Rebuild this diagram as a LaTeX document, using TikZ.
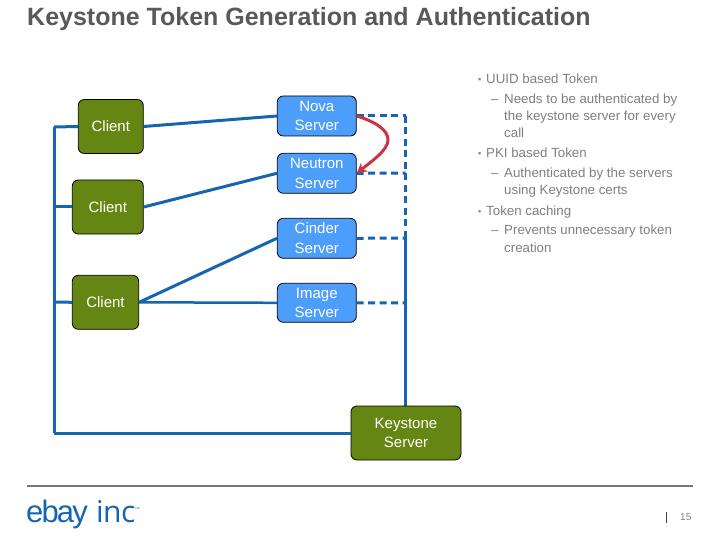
\documentclass[tikz,border=0pt]{standalone}
\usepackage{fontspec}
\setmainfont{Liberation Sans}
\newfontfamily\logolight{Open Sans}
\usetikzlibrary{arrows.meta}
\definecolor{linkblue}{HTML}{1565B0}
\definecolor{srvblue}{HTML}{4D9DFA}
\definecolor{grn}{HTML}{668614}
\definecolor{txtgrey}{HTML}{7F7F7F}
\definecolor{titlegrey}{HTML}{595959}
\definecolor{arrowred}{HTML}{CC3344}
\definecolor{rulegrey}{HTML}{7A7570}
\tikzset{
  x=1pt,y=-1pt,
  boxbase/.style={draw=black,line width=0.8pt,rounded corners=6pt,align=center,inner sep=0pt,text=white,font=\fontsize{15}{19.5}\selectfont},
  clientbox/.style={boxbase,fill=grn},
  srvbox/.style={boxbase,fill=srvblue,minimum width=79pt,minimum height=40pt},
  link/.style={draw=linkblue,line width=3pt},
  dashlink/.style={draw=linkblue,line width=3pt,dash pattern=on 7pt off 4.5pt},
  bul/.style={anchor=base west,inner sep=0pt,text=txtgrey,font=\fontsize{13.3}{16}\selectfont},
}
\begin{document}
\begin{tikzpicture}
\useasboundingbox (0,0) rectangle (720,540);
\node[anchor=base west,inner sep=0pt,text=titlegrey,font=\fontsize{25}{30}\bfseries\selectfont] (title) at (27,26) {Keystone Token Generation and Authentication};

% free corners of the connectors
\coordinate (lc1) at (54,127);
\coordinate (lc2) at (54,207);
\coordinate (lc3) at (54,302);
\coordinate (lb) at (54,433);
\coordinate (rt) at (405.7,116);
\coordinate (rn) at (405.7,173);
\coordinate (rc) at (405.7,238);
\coordinate (ri) at (405.7,303);
\coordinate (rk) at (405.7,406);

% connectors underneath the boxes
\draw[link] (lc1) -- (lb);
\draw[dashlink] (rt) -- (rc);
\draw[link] (rc) -- (rk);

\node[clientbox,minimum width=65pt,minimum height=54pt] (c1) at (110.8,126.5) {Client};
\node[clientbox,minimum width=71pt,minimum height=54pt] (c2) at (107.8,207) {Client};
\node[clientbox,minimum width=66.4pt,minimum height=54pt] (c3) at (105.5,302.3) {Client};
\node[srvbox] (nova) at (316.8,116) {Nova\\Server};
\node[srvbox] (neutron) at (316.8,173.3) {Neutron\\Server};
\node[srvbox] (cinder) at (316.8,238.3) {Cinder\\Server};
\node[srvbox,minimum height=39pt] (image) at (316.8,302.8) {Image\\Server};
\node[clientbox,minimum width=110pt,minimum height=54pt] (key) at (406,433) {Keystone\\Server};

\draw[link] (lc1) -- (c1.west);
\draw[link] (lc2) -- (c2.west);
\draw[link] (lc3) -- (c3.west);
\draw[link] (lb) -- (key.west);
\draw[link] (c1.east) -- (nova.west);
\draw[link] (c2.east) -- (neutron.west);
\draw[link] (c3.east) -- (cinder.west);
\draw[link,line width=2.5pt] (c3.east) -- (image.west);
\draw[dashlink] (nova.east) -- (rt);
\draw[dashlink] (neutron.east) -- (rn);
\draw[dashlink] (cinder.east) -- (rc);
\draw[dashlink] (image.east) -- (ri);

\draw[draw=arrowred,line width=3pt,-{Stealth[length=10pt,width=11pt]}]
  (nova.east) .. controls (376,122) and (388,130) .. (388,140)
  .. controls (388,150) and (372,161) .. (neutron.east);

% bullets
\node[bul] (b1) at (478,84) {\fontsize{9}{9}\selectfont\raisebox{1pt}{▪}};
\node[bul] (t1) at (486,84) {UUID based Token};
\node[bul] (d1) at (491,104) {–};
\node[bul] (t2) at (504,104) {Needs to be authenticated by};
\node[bul] (t3) at (504,121) {the keystone server for every};
\node[bul] (t4) at (504,138) {call};
\node[bul] (b2) at (478,158) {\fontsize{9}{9}\selectfont\raisebox{1pt}{▪}};
\node[bul] (t5) at (486,158) {PKI based Token};
\node[bul] (d2) at (491,178) {–};
\node[bul] (t6) at (504,178) {Authenticated by the servers};
\node[bul] (t7) at (504,195) {using Keystone certs};
\node[bul] (b3) at (478,215) {\fontsize{9}{9}\selectfont\raisebox{1pt}{▪}};
\node[bul] (t8) at (486,215) {Token caching};
\node[bul] (d3) at (491,235) {–};
\node[bul] (t9) at (504,235) {Prevents unnecessary token};
\node[bul] (t10) at (504,252) {creation};

% footer
\coordinate (ruleL) at (27,486);
\coordinate (ruleR) at (693,486);
\draw[rulegrey,line width=1.8pt] (ruleL) -- (ruleR);
\node[anchor=base west,inner sep=0pt,text=linkblue,font=\fontsize{31}{31}\selectfont] (ebay) at (26,522) {\addfontfeature{LetterSpace=-6}ebay};
\node[anchor=base west,inner sep=0pt,text=linkblue,font=\logolight\fontsize{30}{30}\selectfont] (inc) at (96,522) {\addfontfeature{LetterSpace=-2}inc};
\node[anchor=base west,inner sep=0pt,text=linkblue,font=\fontsize{3}{3}\selectfont] (tm) at (135,509) {TM};
\coordinate (tickT) at (666.5,511.5);
\coordinate (tickB) at (666.5,522.5);
\draw[black!75,line width=1.3pt] (tickT) -- (tickB);
\node[anchor=base west,inner sep=0pt,text=txtgrey,font=\fontsize{10}{12}\selectfont] (pg) at (680,520) {15};
\end{tikzpicture}
\end{document}
